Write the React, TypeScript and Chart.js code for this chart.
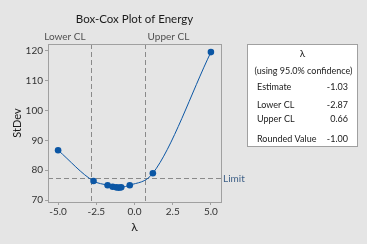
import React, { useEffect, useRef } from "react";
import { Chart, registerables } from "chart.js";

Chart.register(...registerables);

const lambdaValues = [-5, -2.68, -1.76, -1.43, -1.2, -1.03, -0.87, -0.31, 1.2, 5];
const stdevValues = [86.7, 76.4, 75.0, 74.5, 74.3, 74.2, 74.3, 75.0, 79.0, 119.5];
const xTicks = [-5, -2.5, 0, 2.5, 5];
const yTicks = [70, 80, 90, 100, 110, 120];
const lowerCL = -2.87;
const upperCL = 0.66;
const limitValue = 77.3;
const legendRows = [
  ["Estimate", "-1.03"],
  ["Lower CL", "-2.87"],
  ["Upper CL", "0.66"],
  ["Rounded Value", "-1.00"],
];

const FONT = "Lato, 'Noto Sans', sans-serif";
const BLUE = "#0b56a4";

const overlay = {
  id: "overlay",
  beforeDatasetsDraw(chart: any) {
    const { ctx, chartArea: a, scales } = chart;
    const x = scales.x, y = scales.y;
    ctx.save();
    ctx.strokeStyle = "#8a8a8a";
    ctx.lineWidth = 1;
    ctx.setLineDash([5, 3]);
    [lowerCL, upperCL].forEach((v) => {
      const px = Math.round(x.getPixelForValue(v)) + 0.5;
      ctx.beginPath();
      ctx.moveTo(px, a.top);
      ctx.lineTo(px, a.bottom);
      ctx.stroke();
    });
    const py = Math.round(y.getPixelForValue(limitValue)) + 0.5;
    ctx.beginPath();
    ctx.moveTo(a.left, py);
    ctx.lineTo(a.right, py);
    ctx.stroke();
    ctx.restore();
  },
  afterDraw(chart: any) {
    const { ctx, chartArea: a, scales } = chart;
    const x = scales.x, y = scales.y;
    ctx.save();
    ctx.strokeStyle = "#a0a0a0";
    ctx.lineWidth = 1;
    ctx.setLineDash([]);
    ctx.strokeRect(Math.round(a.left) + 0.5, Math.round(a.top) + 0.5, Math.round(a.right - a.left), Math.round(a.bottom - a.top));

    const cx = (a.left + a.right) / 2;
    ctx.textBaseline = "middle";
    ctx.fillStyle = "#1a1a1a";
    ctx.font = `11.5px ${FONT}`;
    ctx.textAlign = "center";
    ctx.fillText("Box-Cox Plot of Energy", cx, 19);
    ctx.font = `10px ${FONT}`;
    ctx.fillStyle = "#505050";
    ctx.textAlign = "right";
    ctx.fillText("Lower CL", x.getPixelForValue(lowerCL) - 5, 37);
    ctx.textAlign = "left";
    ctx.fillText("Upper CL", x.getPixelForValue(upperCL) + 3, 37);
    ctx.fillStyle = "#3d5f86";
    ctx.fillText("Limit", a.right + 2, y.getPixelForValue(limitValue));
    ctx.fillStyle = "#1a1a1a";
    ctx.font = `12px ${FONT}`;
    ctx.textAlign = "center";
    ctx.fillText("λ", cx, 227);
    ctx.save();
    ctx.translate(17, (a.top + a.bottom) / 2);
    ctx.rotate(-Math.PI / 2);
    ctx.font = `11px ${FONT}`;
    ctx.fillText("StDev", 0, 0);
    ctx.restore();

    const bx = 247.5, by = 44.5, bw = 110, bh = 102;
    ctx.fillStyle = "#ffffff";
    ctx.fillRect(bx, by, bw, bh);
    ctx.strokeStyle = "#a0a0a0";
    ctx.strokeRect(bx, by, bw, bh);
    ctx.fillStyle = "#1a1a1a";
    ctx.font = `9px ${FONT}`;
    ctx.textAlign = "center";
    ctx.font = `10px ${FONT}`;
    ctx.fillText("λ", bx + bw / 2, 54);
    ctx.font = `9px ${FONT}`;
    ctx.fillText("(using 95.0% confidence)", bx + bw / 2 + 1, 71);
    const rowY = [87, 105, 119, 139];
    legendRows.forEach((r, i) => {
      ctx.textAlign = "left";
      ctx.fillText(r[0], 257, rowY[i]);
      ctx.textAlign = "right";
      ctx.fillText(r[1], 348, rowY[i]);
    });
    ctx.restore();
  },
};

export default function App() {
  const ref = useRef<HTMLCanvasElement>(null);
  useEffect(() => {
    document.body.style.margin = "0";
    document.body.style.background = "#e5e5e5";
    const chart = new Chart(ref.current!, {
      type: "line",
      data: {
        datasets: [
          {
            data: lambdaValues.map((v, i) => ({ x: v, y: stdevValues[i] })),
            borderColor: BLUE,
            backgroundColor: BLUE,
            borderWidth: 1,
            pointRadius: 3.3,
            pointBorderWidth: 0,
            cubicInterpolationMode: "monotone",
          },
        ],
      },
      options: {
        animation: false,
        responsive: false,
        layout: { padding: { left: 0, top: 44, right: 146, bottom: 0 } },
        plugins: { legend: { display: false }, title: { display: false }, tooltip: { enabled: false } },
        scales: {
          x: {
            type: "linear",
            min: -5.66,
            max: 5.66,
            afterBuildTicks: (s: any) => { s.ticks = xTicks.map((v) => ({ value: v })); },
            afterFit: (s: any) => { s.height = 42; },
            grid: { drawOnChartArea: false, drawTicks: true, tickLength: 3, color: "#a0a0a0" },
            border: { display: false },
            ticks: { padding: 1, color: "#333", font: { family: FONT, size: 10 }, maxRotation: 0, callback: (v: any) => Number(v).toFixed(1) },
          },
          y: {
            type: "linear",
            min: 69.4,
            max: 122.2,
            afterBuildTicks: (s: any) => { s.ticks = yTicks.map((v) => ({ value: v })); },
            afterFit: (s: any) => { s.width = 48; },
            grid: { drawOnChartArea: false, drawTicks: true, tickLength: 3, color: "#a0a0a0" },
            border: { display: false },
            ticks: { padding: 2, color: "#333", font: { family: FONT, size: 10 } },
          },
        },
      },
      plugins: [overlay],
    } as any);
    return () => chart.destroy();
  }, []);
  return (
    <div style={{ width: 367, height: 244, background: "#e5e5e5" }}>
      <canvas ref={ref} width={367} height={244} style={{ display: "block" }} />
    </div>
  );
}
